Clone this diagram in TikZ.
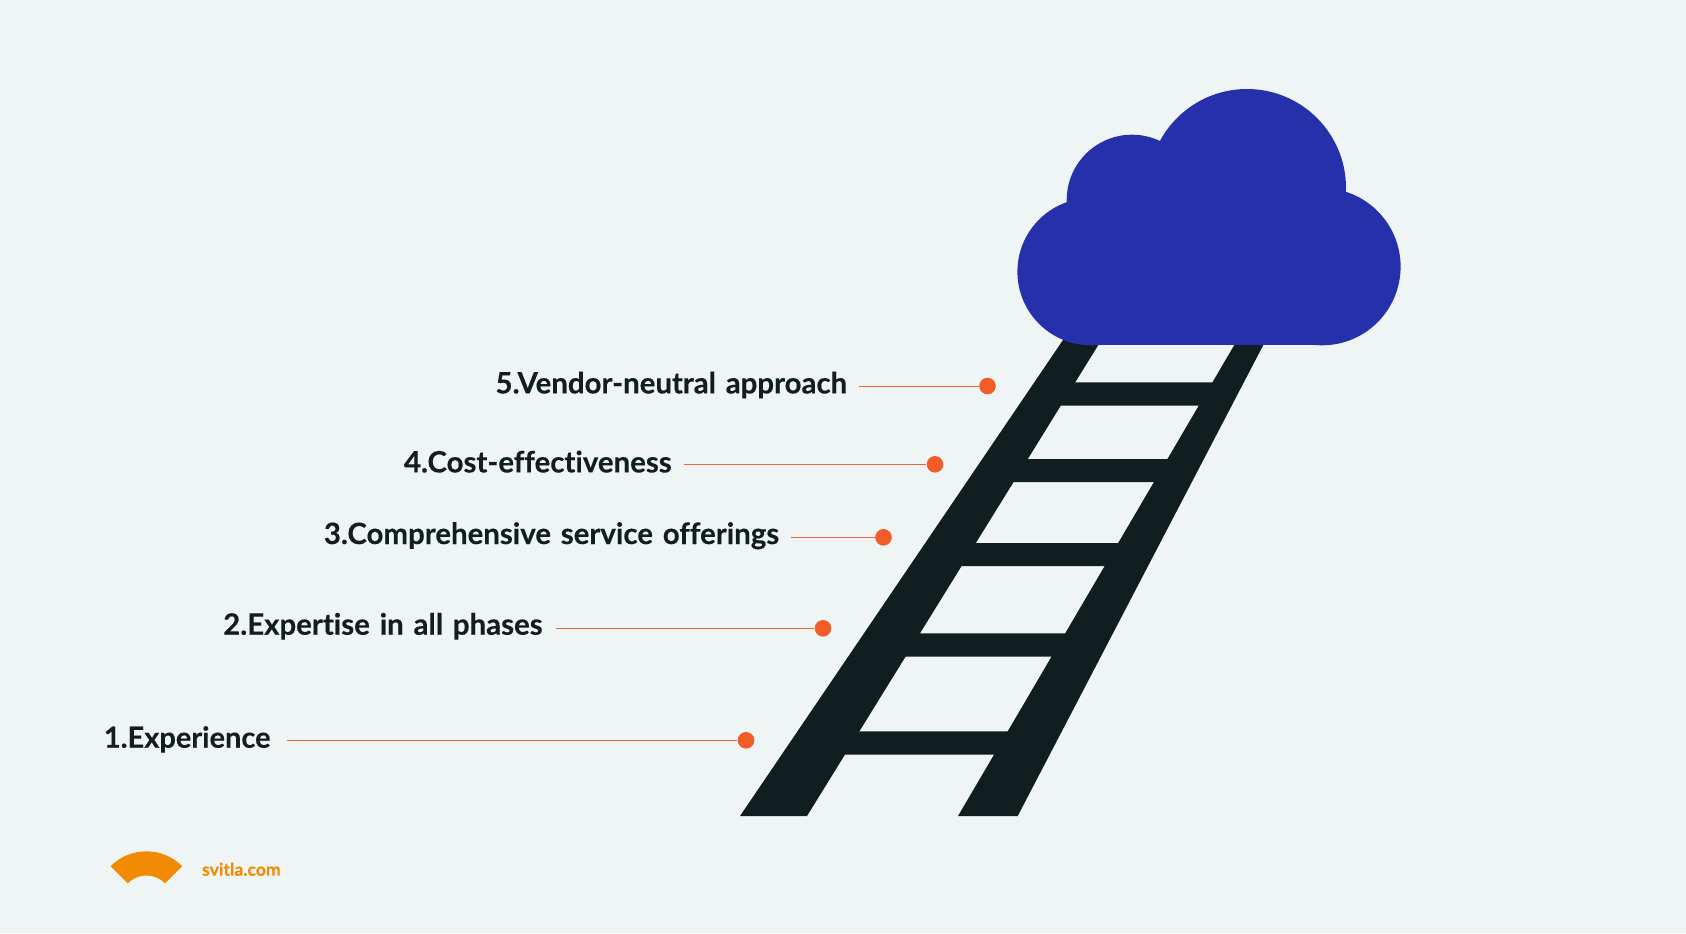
\documentclass[tikz,border=0pt]{standalone}
\usepackage{fontspec}
\setmainfont{Lato}[BoldFont={Lato Bold},BoldFeatures={FakeBold=0.25},Ligatures={NoCommon,NoRare,NoContextual}]
\definecolor{bgc}{HTML}{EFF5F5}
\definecolor{inkc}{HTML}{111E20}
\definecolor{cloudc}{HTML}{2730AB}
\definecolor{dotc}{HTML}{F25C27}
\definecolor{leadc}{HTML}{E8663A}
\definecolor{logoc}{HTML}{F28A03}
\newcommand{\itemfont}{\fontsize{14.7}{17}\selectfont\bfseries\spaceskip 4.9pt\relax}
\tikzset{
  ladderpart/.style={fill=inkc,draw=none},
  cloudpart/.style={fill=cloudc,draw=none},
  pin/.style={circle,fill=dotc,draw=none,minimum size=8.3pt,inner sep=0pt},
  lead/.style={draw=leadc,line width=0.5pt},
  itemtext/.style={text=inkc,inner sep=0pt,anchor=base east},
  logotext/.style={font=\fontsize{8.8}{10}\selectfont\bfseries,text=logoc,inner sep=0pt,anchor=base west},
}
\newcommand{\rungbar}[2]{%
  \fill[ladderpart] ({807+(816-#1)*0.6185-3},#1) -- ({958+(816-#1)*0.5866+3},#1)
    -- ({958+(816-#2)*0.5866+3},#2) -- ({807+(816-#2)*0.6185-3},#2) -- cycle;}
\begin{document}
\begin{tikzpicture}[x=0.5pt,y=-0.5pt]
\useasboundingbox (0,0) rectangle (1686,933);
\fill[bgc] (0,0) rectangle (1686,933);
% ladder
\fill[ladderpart] (740,816) -- (807,816) -- (1098.3,345) -- (1075,330) -- (1063,340) -- cycle;
\fill[ladderpart] (958,816) -- (1017.7,816) -- (1263.3,345) -- (1240,330) -- (1234.3,345) -- cycle;
\rungbar{382.3}{405.7}
\rungbar{459}{482}
\rungbar{543}{566}
\rungbar{633.3}{656.7}
\rungbar{731.3}{754.7}
% cloud
\fill[cloudpart] (1091,271.7) circle (73.6);
\fill[cloudpart] (1132,200) circle (65.3);
\fill[cloudpart] (1247,188) circle (99);
\fill[cloudpart] (1322,266.7) circle (78.6);
\fill[cloudpart] (1091,188) rectangle (1322,345.3);
% items
\node[pin] (d5) at (987.5,386) {};
\node[pin] (d4) at (935,464.3) {};
\node[pin] (d3) at (883.5,537.3) {};
\node[pin] (d2) at (823,628.3) {};
\node[pin] (d1) at (746,740.3) {};
\coordinate (s5) at (859,386);
\coordinate (s4) at (684,464.3);
\coordinate (s3) at (790.6,537.3);
\coordinate (s2) at (556,628.3);
\coordinate (s1) at (287,740.3);
\foreach \i in {1,...,5} \draw[lead] (s\i) -- (d\i);
\node[itemtext] (t5) at (847.5,393.4) {\itemfont 5.Vendor-neutral approach};
\node[itemtext] (t4) at (672,472.4) {\itemfont 4.Cost-effectiveness};
\node[itemtext] (t3) at (779.5,544) {\itemfont 3.Comprehensive service offerings};
\node[itemtext] (t2) at (543,634.7) {\itemfont 2.Expertise in all phases};
\node[itemtext] (t1) at (271,747.7) {\fontsize{14.5}{17}\selectfont\bfseries 1.Experience};
% logo
\fill[logoc] ({146.4-35.85},{902-35.85}) arc (225:315:50.7) -- ({146.4+18.74},{902-18.74}) arc (315:225:26.5) -- cycle;
\node[logotext] (brand) at (201.7,875.7) {svitla.com};
\end{tikzpicture}
\end{document}
